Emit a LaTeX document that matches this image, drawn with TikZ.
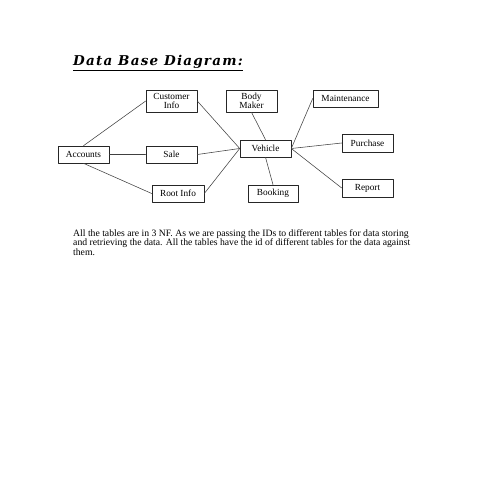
\documentclass[tikz,border=0pt]{standalone}
\usepackage{fontspec}
\setmainfont{Liberation Serif}
\newfontfamily\titlefont[LetterSpace=9]{DejaVu Serif}
\begin{document}
\begin{tikzpicture}[x=1pt,y=-1pt,line join=round,line cap=round]
	\tikzset{tablebox/.style={draw=black!85,line width=0.6pt,minimum width=51pt,minimum height=17pt,inner sep=1pt,align=center,font=\fontsize{9.3}{8.5}\selectfont},
		link/.style={draw=black!75,line width=0.55pt}}
	\useasboundingbox (0,0) rectangle (495,495);
	% title
	\node[anchor=base west,inner sep=0pt,font=\titlefont\bfseries\itshape\fontsize{13.5}{15}\selectfont] (title) at (73,65.5) {\underline{Data Base Diagram:}};
	% tables
	\node[tablebox,minimum height=22pt] (custinfo) at (171.5,101) {Customer\\Info};
	\node[tablebox,minimum height=22pt] (bodymaker) at (251.5,101) {Body\\Maker};
	\node[tablebox,minimum width=65pt] (maint) at (345.5,98.5) {Maintenance};
	\node[tablebox] (accounts) at (83.5,154.5) {Accounts};
	\node[tablebox] (sale) at (171.5,154.5) {Sale};
	\node[tablebox] (vehicle) at (265.5,148.5) {Vehicle};
	\node[tablebox,minimum height=18pt] (purchase) at (367.5,143) {Purchase};
	\node[tablebox,minimum width=52pt] (rootinfo) at (178,193.5) {Root Info};
	\node[tablebox,minimum width=50pt] (booking) at (273,193.5) {Booking};
	\node[tablebox,minimum height=18pt] (report) at (367.5,188) {Report};
	% links
	\draw[link] (accounts.north)--(custinfo.west) (accounts.east)--(sale.west) (accounts.south)--(rootinfo.west);
	\foreach \t in {custinfo,sale,rootinfo}
	\draw[link] (\t.east)--(vehicle.west);
	\draw[link] (bodymaker.south)--(vehicle.north) (booking.north)--(vehicle.south);
	\foreach \t in {maint,purchase,report}
	\draw[link] (vehicle.east)--(\t.west);
	% note
	\node[anchor=north west,inner sep=0pt,align=left,font=\fontsize{9.7}{8.3}\selectfont] (note) at (73,229) {All the tables are in 3 NF. As we are passing the IDs to different tables for data storing\\and retrieving the data. All the tables have the id of different tables for the data against\\them.};
\end{tikzpicture}
\end{document}
